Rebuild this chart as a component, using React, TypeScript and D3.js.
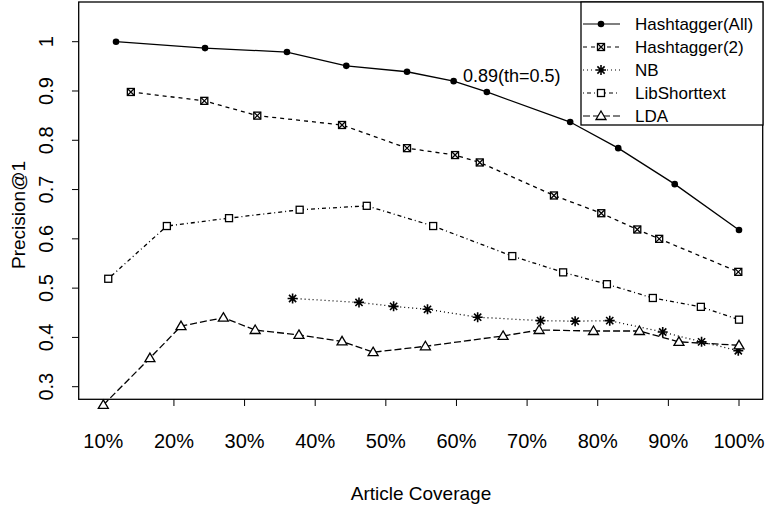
import React from "react";
import * as d3 from "d3";

const xTicks = [10, 20, 30, 40, 50, 60, 70, 80, 90, 100];
const yTicks = [0.3, 0.4, 0.5, 0.6, 0.7, 0.8, 0.9, 1];

const allX = [11.8, 24.4, 36.0, 44.4, 53.0, 59.6, 64.3, 76.1, 82.9, 90.9, 100];
const allY = [1.0, 0.987, 0.979, 0.951, 0.939, 0.92, 0.898, 0.837, 0.784, 0.711, 0.618];
const h2X = [13.9, 24.3, 31.8, 43.8, 53.0, 59.8, 63.3, 73.8, 80.5, 85.6, 88.7, 99.9];
const h2Y = [0.898, 0.88, 0.85, 0.831, 0.784, 0.77, 0.755, 0.688, 0.652, 0.619, 0.6, 0.533];
const nbX = [36.8, 46.2, 51.1, 55.9, 63.0, 71.9, 76.8, 81.7, 89.2, 94.7, 99.9];
const nbY = [0.479, 0.471, 0.463, 0.457, 0.441, 0.434, 0.433, 0.434, 0.411, 0.391, 0.373];
const libX = [10.7, 19.0, 27.8, 37.8, 47.3, 56.7, 67.9, 75.1, 81.3, 87.8, 94.6, 100];
const libY = [0.519, 0.626, 0.642, 0.659, 0.667, 0.626, 0.565, 0.532, 0.508, 0.48, 0.462, 0.436];
const ldaX = [10, 16.6, 21, 27, 31.5, 37.7, 43.8, 48.2, 55.6, 66.6, 71.7, 79.4, 85.9, 91.5, 100];
const ldaY = [0.263, 0.358, 0.423, 0.44, 0.415, 0.405, 0.392, 0.37, 0.382, 0.403, 0.415, 0.413, 0.413, 0.391, 0.384];

const x = d3.scaleLinear().domain([10, 100]).range([103.3, 739]);
const y = d3.scaleLinear().domain([0.3, 1]).range([386.7, 41.7]);

type Series = { name: string; xs: number[]; ys: number[]; dash: string; marker: string };
const series: Series[] = [
  { name: "Hashtagger(All)", xs: allX, ys: allY, dash: "", marker: "dot" },
  { name: "Hashtagger(2)", xs: h2X, ys: h2Y, dash: "4,4", marker: "sqx" },
  { name: "NB", xs: nbX, ys: nbY, dash: "1,3", marker: "star" },
  { name: "LibShorttext", xs: libX, ys: libY, dash: "1,3,4,3", marker: "sq" },
  { name: "LDA", xs: ldaX, ys: ldaY, dash: "7,3", marker: "tri" },
];

function Marker({ type, cx, cy }: { type: string; cx: number; cy: number }) {
  const s = { fill: "none", stroke: "#000", strokeWidth: 1.3 };
  if (type === "dot") return <circle cx={cx} cy={cy} r={3.3} fill="#000" />;
  if (type === "sq") return <rect x={cx - 3.5} y={cy - 3.5} width={7} height={7} {...s} fill="#fff" />;
  if (type === "sqx")
    return (
      <g>
        <rect x={cx - 3.5} y={cy - 3.5} width={7} height={7} {...s} fill="#fff" />
        <path d={`M${cx - 3.5},${cy - 3.5}L${cx + 3.5},${cy + 3.5}M${cx + 3.5},${cy - 3.5}L${cx - 3.5},${cy + 3.5}`} {...s} />
      </g>
    );
  if (type === "tri")
    return <path d={`M${cx},${cy - 5}L${cx + 5},${cy + 3.5}L${cx - 5},${cy + 3.5}Z`} {...s} fill="#fff" />;
  const r = 5;
  return (
    <path
      d={`M${cx - r},${cy}L${cx + r},${cy}M${cx},${cy - r}L${cx},${cy + r}M${cx - 3.6},${cy - 3.6}L${cx + 3.6},${cy + 3.6}M${cx + 3.6},${cy - 3.6}L${cx - 3.6},${cy + 3.6}`}
      stroke="#000"
      strokeWidth={1.6}
    />
  );
}

export default function App() {
  const line = d3.line<number[]>().x((d) => x(d[0])).y((d) => y(d[1]));
  const font = "'Liberation Sans', Arial, Helvetica, sans-serif";
  return (
    <svg width={768} height={506} style={{ position: "absolute", left: 0, top: 0, background: "#fff" }} fontFamily={font}>
      <rect x={78.7} y={2} width={684} height={397.3} fill="none" stroke="#000" strokeWidth={1.3} />
      {xTicks.map((t) => (
        <g key={t}>
          <line x1={x(t)} x2={x(t)} y1={399.3} y2={406} stroke="#000" />
          <text x={x(t)} y={448} fontSize={20} textAnchor="middle">{t}%</text>
        </g>
      ))}
      {yTicks.map((t) => (
        <g key={t}>
          <line x1={72} x2={78.7} y1={y(t)} y2={y(t)} stroke="#000" />
          <text transform={`translate(53,${y(t)}) rotate(-90)`} fontSize={20} textAnchor="middle">{t}</text>
        </g>
      ))}
      <text x={421} y={500} fontSize={19} textAnchor="middle">Article Coverage</text>
      <text transform={`translate(25,215) rotate(-90)`} fontSize={19} textAnchor="middle">Precision@1</text>
      {series.map((s) => (
        <g key={s.name}>
          <path d={line(s.xs.map((v, i) => [v, s.ys[i]])) || ""} fill="none" stroke="#000" strokeWidth={1.3} strokeDasharray={s.dash} />
          {s.xs.map((v, i) => (
            <Marker key={i} type={s.marker} cx={x(v)} cy={y(s.ys[i])} />
          ))}
        </g>
      ))}
      <text x={463} y={82} fontSize={18}>0.89(th=0.5)</text>
      <rect x={581} y={2} width={182} height={123} fill="#fff" stroke="#000" strokeWidth={1.3} />
      {series.map((s, i) => {
        const ly = 24 + i * 23;
        return (
          <g key={s.name}>
            <line x1={583} x2={620} y1={ly} y2={ly} stroke="#000" strokeWidth={1.2} strokeDasharray={s.dash} />
            <Marker type={s.marker} cx={601} cy={ly} />
            <text x={635} y={ly + 6} fontSize={17}>{s.name}</text>
          </g>
        );
      })}
    </svg>
  );
}
